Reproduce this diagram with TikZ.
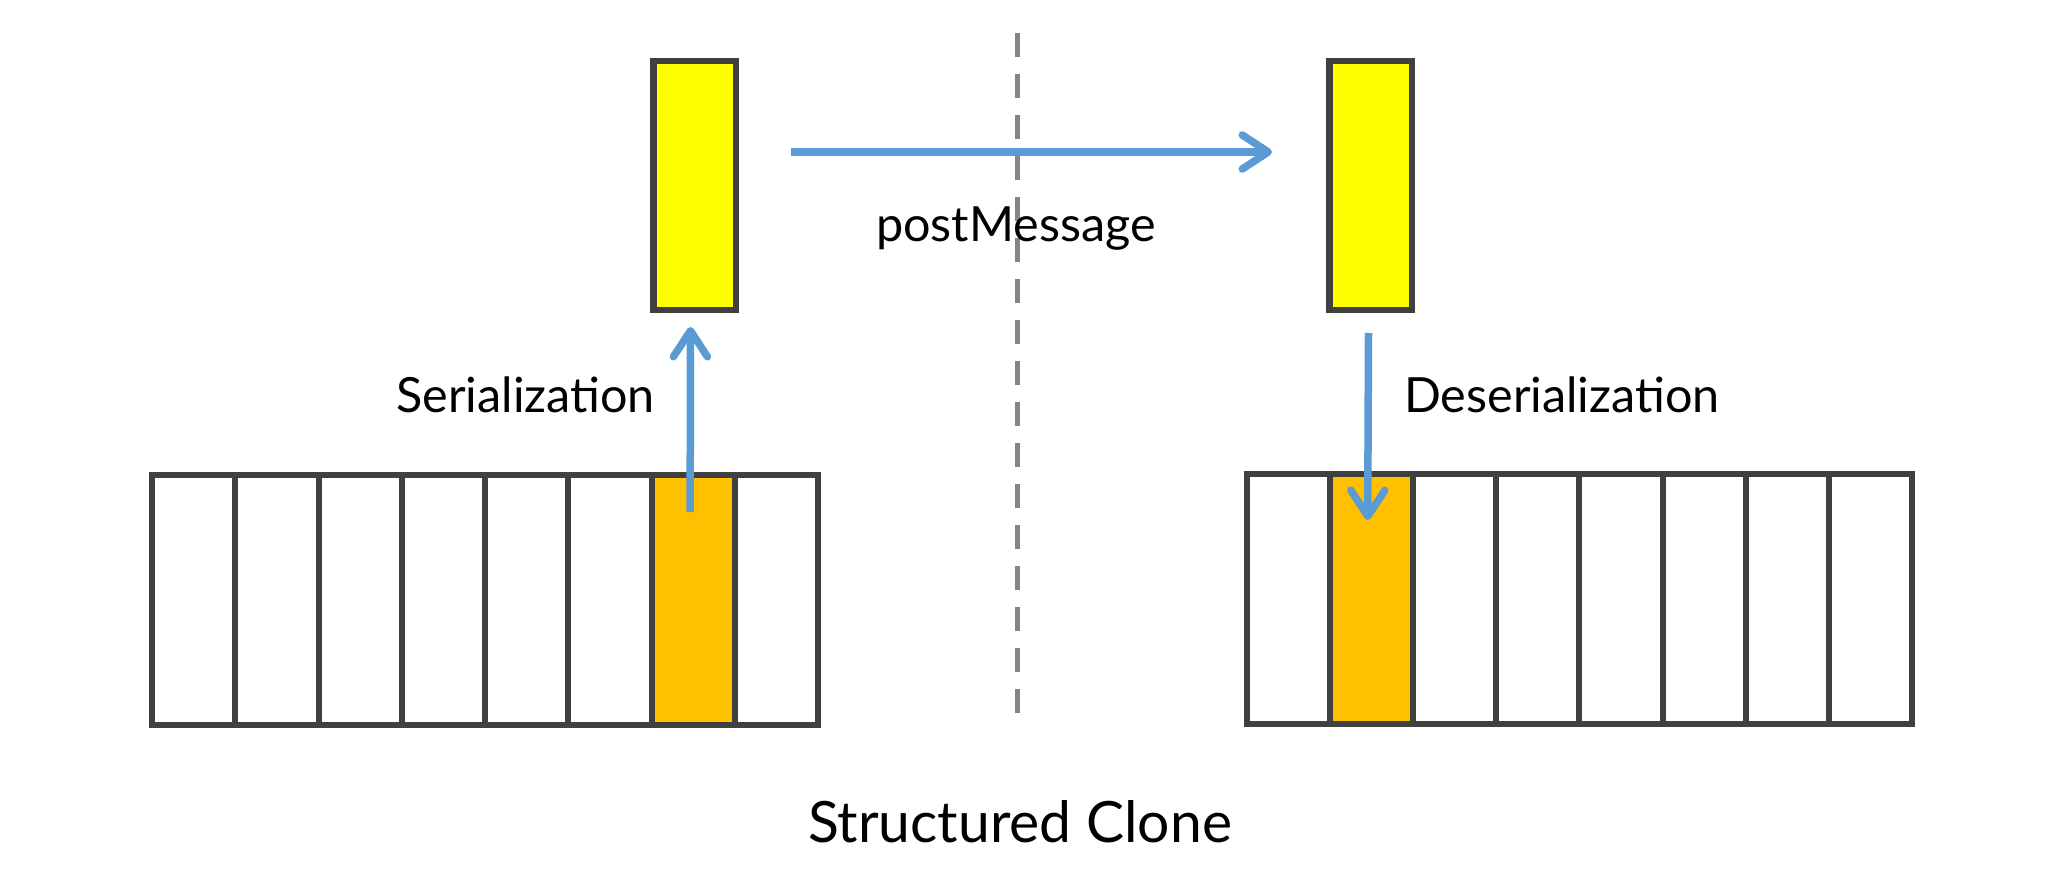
\documentclass[tikz,border=0pt]{standalone}
\usepackage{fontspec}
\setmainfont{Lato}
\usetikzlibrary{arrows.meta}
\definecolor{edgegray}{HTML}{404040}
\definecolor{boxyellow}{HTML}{FFFF00}
\definecolor{cellorange}{HTML}{FFC000}
\definecolor{arrowblue}{HTML}{5B9BD5}
\definecolor{dashgray}{HTML}{858585}
\tikzset{
  ybox/.style={draw=edgegray, line width=6.5pt, fill=boxyellow, minimum width=82.5pt, minimum height=248.5pt, inner sep=0pt},
  cell/.style={draw=edgegray, line width=6pt, fill=white, minimum width=83.25pt, minimum height=250pt, inner sep=0pt},
  hotcell/.style={cell, fill=cellorange},
  flow/.style={draw=arrowblue, line width=7.5pt, -{Straight Barb[length=26pt, width=34pt, line cap=round, line join=round]}},
  divider/.style={draw=dashgray, line width=5pt, dash pattern=on 24pt off 17pt},
  lbl/.style={font=\fontsize{48.5}{58}\selectfont, inner sep=0pt},
  ttl/.style={font=\fontsize{57}{68}\selectfont, inner sep=0pt}
}
\begin{document}
\begin{tikzpicture}[x=1pt, y=-1pt]
\useasboundingbox[fill=white] (0,0) rectangle (2064,872);
% dashed divider
\coordinate (dtop) at (1017,33);
\coordinate (dbot) at (1017,729);
\draw[divider] (dtop) -- (dbot);
% left memory cells
\foreach \i in {1,...,8} {
  \pgfmathsetmacro{\cx}{152+83.25*(\i-0.5)}
  \ifnum\i=7
    \node[hotcell] (L\i) at (\cx,600) {};
  \else
    \node[cell] (L\i) at (\cx,600) {};
  \fi
}
% right memory cells
\foreach \i in {1,...,8} {
  \pgfmathsetmacro{\cx}{1247+83.125*(\i-0.5)}
  \ifnum\i=2
    \node[hotcell] (R\i) at (\cx,599) {};
  \else
    \node[cell] (R\i) at (\cx,599) {};
  \fi
}
% yellow boxes
\node[ybox] (YL) at (694.5,185.5) {};
\node[ybox] (YR) at (1370.5,185.5) {};
% labels
\node[lbl, anchor=base east] (ser) at (655,412) {Serialization};
\node[lbl, anchor=base west] (deser) at (1404,412) {Deserialization};
\node[lbl, anchor=base] (pm) at (1016,241) {postMessage};
\node[ttl, anchor=base] (sc) at (1020,842) {Structured Clone};
% arrows
\draw[flow] ([xshift=-3pt, yshift=-40pt]L7.north) -- ([xshift=-4pt, yshift=-14pt]YL.south);
\draw[flow] ([xshift=52pt]YL.east |- 0,152) -- ([xshift=-54pt]YR.west |- 0,152);
\draw[flow] ([xshift=-2pt, yshift=-20pt]YR.south) -- ([xshift=-4pt, yshift=-49pt]R2.north);
\end{tikzpicture}
\end{document}
